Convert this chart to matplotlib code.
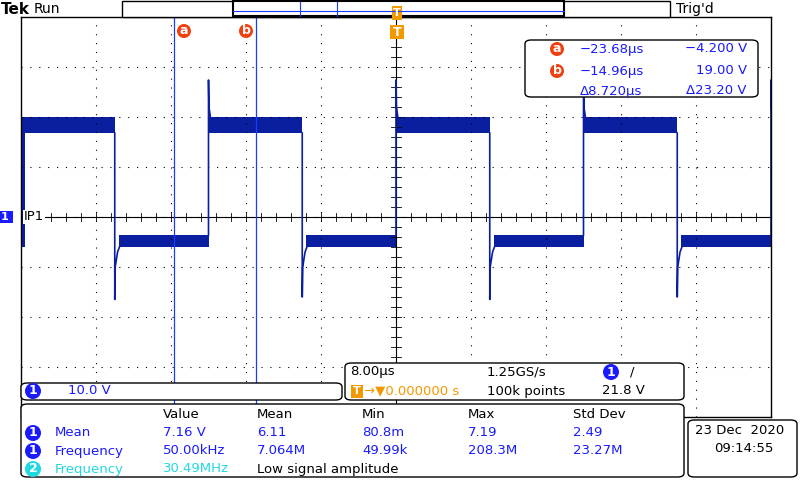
import matplotlib
matplotlib.use("Agg")
import matplotlib.pyplot as plt
from matplotlib.patches import FancyBboxPatch, Rectangle, Ellipse
import numpy as np

# waveform: 50 kHz square, 8 us/div, 10 V/div
rise_times = [-20.0, 0.0, 20.0, 40.0]
fall_times = [-30.0, -10.0, 10.0, 30.0]
high_lo, high_hi = 16.8, 20.0
low_lo, low_hi = -6.0, -3.6
rise_peak = [27.4, 27.4, 27.4, 27.4]
fall_peak = [-16.5, -16.0, -16.5, -16.0]
cursor_a, cursor_b = -23.68, -14.96

BLUE = "#0a1ea0"
TXT = "#1a1aff"
ORANGE = "#f29900"
RED = "#f04010"
CYAN = "#22d8e0"

fig = plt.figure(figsize=(8, 4.8), dpi=100)
fig.patch.set_facecolor("white")
W, H = 800, 480

def fx(px): return px / W
def fy(py): return 1 - py / H

ax = fig.add_axes([fx(21), fy(417), 750 / W, 400 / H])
ax.set_xlim(-40, 40)
ax.set_ylim(-40, 40)
ax.set_xticks([]); ax.set_yticks([])
for s in ax.spines.values():
    s.set_color("black"); s.set_linewidth(1)

# graticule
for gx in np.arange(-32, 40, 8):
    ax.axvline(gx, color="black", lw=0.8, ls=(0, (1, 7)))
for gy in np.arange(-30, 40, 10):
    ax.axhline(gy, color="black", lw=0.8, ls=(0, (1, 7)))
ax.axhline(0, color="black", lw=0.8)
ax.axvline(0, color="black", lw=0.8)
for t in np.arange(-40, 40.1, 1.6):
    ax.plot([t, t], [-0.8, 0.8], color="black", lw=0.6)
for v in np.arange(-40, 40.1, 2):
    ax.plot([-0.5, 0.5], [v, v], color="black", lw=0.6)

# trace bands
for f in fall_times:
    ax.fill_between([max(f - 10, -40), f], high_lo, high_hi, color=BLUE, lw=0)
for r in rise_times:
    ax.fill_between([r - 10 + 0.4, r], low_lo, low_hi, color=BLUE, lw=0)
ax.fill_between([-40, -39.6], low_lo, high_hi, color=BLUE, lw=0)
for r, p in zip(rise_times, rise_peak):
    ax.plot([r, r, r + 0.05, r + 0.2], [low_hi, p, high_hi + 2, high_hi], color=BLUE, lw=1.2)
for f, p in zip(fall_times, fall_peak):
    ax.plot([f, f, f + 0.05, f + 0.3, f + 0.5], [high_lo, p, low_lo - 4, low_lo - 1, low_lo], color=BLUE, lw=1.2)

# cursors
ax.axvline(cursor_a, color="#1a3cff", lw=0.9)
ax.axvline(cursor_b, color="#1a3cff", lw=0.9)

def badge(x, y, s, fc, r=7):
    fig.patches.append(Ellipse((fx(x), fy(y)), 2 * r / W, 2 * r / H, transform=fig.transFigure,
                               facecolor=fc, edgecolor="none"))
    fig.text(fx(x), fy(y), s, color="white", fontsize=9, fontweight="bold",
             ha="center", va="center")

def box(x0, y0, x1, y1):
    fig.patches.append(FancyBboxPatch((fx(x0), fy(y1)), fx(x1 - x0), (y1 - y0) / H,
                                      boxstyle="round,pad=0,rounding_size=0.008",
                                      transform=fig.transFigure, facecolor="white",
                                      edgecolor="black", lw=1))

# top bar
fig.text(fx(1), fy(9), "Tek", fontsize=11, fontweight="bold", va="center")
fig.text(fx(34), fy(9), "Run", fontsize=10, va="center")
fig.text(fx(676), fy(9), "Trig'd", fontsize=10, va="center")
fig.patches.append(Rectangle((fx(122), fy(17)), fx(548), 16 / H, transform=fig.transFigure,
                             facecolor="white", edgecolor="black", lw=1))
fig.patches.append(Rectangle((fx(233), fy(16)), fx(331), 15 / H, transform=fig.transFigure,
                             facecolor="white", edgecolor="black", lw=1.5))
fig.lines.append(plt.Line2D([fx(233), fx(564)], [fy(11), fy(11)], transform=fig.transFigure, color="#1a3cff", lw=0.8))
for xv in [300, 337]:
    fig.lines.append(plt.Line2D([fx(xv), fx(xv)], [fy(2), fy(16)], transform=fig.transFigure, color="#1a3cff", lw=0.8))
fig.patches.append(Rectangle((fx(392), fy(20)), fx(10), 14 / H, transform=fig.transFigure, facecolor=ORANGE, edgecolor="none"))
fig.text(fx(397), fy(13), "T", color="white", fontsize=8, ha="center", va="center", fontweight="bold")
fig.patches.append(Rectangle((fx(390), fy(39)), fx(14), 14 / H, transform=fig.transFigure, facecolor=ORANGE, edgecolor="none"))
fig.text(fx(397), fy(32), "T", color="white", fontsize=9, ha="center", va="center", fontweight="bold")
badge(184, 31, "a", RED)
badge(246, 31, "b", RED)

# cursor readout
box(525, 40, 758, 97)
badge(557, 49, "a", RED)
badge(557, 71, "b", RED)
for y, c1, c2 in [(49, "\u221223.68\u03bcs", "\u22124.200 V"), (71, "\u221214.96\u03bcs", "19.00 V"),
                  (91, "\u03948.720\u03bcs", "\u039423.20 V")]:
    fig.text(fx(580), fy(y), c1, color=TXT, fontsize=9.5, va="center")
    fig.text(fx(747), fy(y), c2, color=TXT, fontsize=9.5, va="center", ha="right")

# ground marker
fig.patches.append(Rectangle((fx(0), fy(223)), fx(13), 12 / H, transform=fig.transFigure, facecolor=TXT, edgecolor="none"))
fig.text(fx(5), fy(217), "1", color="white", fontsize=8, va="center", ha="center", fontweight="bold")
fig.text(fx(24), fy(217), "IP1", color="black", fontsize=9.5, va="center",
         bbox=dict(facecolor="white", edgecolor="none", pad=0.5))

# bottom panels
box(21, 383, 342, 400)
badge(33, 391, "1", TXT, 8)
fig.text(fx(68), fy(391), "10.0 V", color=TXT, fontsize=9.5, va="center")
box(345, 363, 684, 400)
fig.text(fx(350), fy(372), "8.00\u03bcs", fontsize=9.5, va="center")
fig.text(fx(487), fy(372), "1.25GS/s", fontsize=9.5, va="center")
badge(611, 372, "1", TXT, 8)
fig.text(fx(630), fy(372), "/", fontsize=9.5, va="center")
fig.patches.append(Rectangle((fx(351), fy(398)), fx(12), 13 / H, transform=fig.transFigure, facecolor=ORANGE, edgecolor="none"))
fig.text(fx(357), fy(391), "T", color="white", fontsize=8, ha="center", va="center", fontweight="bold")
fig.text(fx(364), fy(391), "\u2192\u25bc0.000000 s", color=ORANGE, fontsize=9.5, va="center")
fig.text(fx(487), fy(391), "100k points", fontsize=9.5, va="center")
fig.text(fx(645), fy(391), "21.8 V", fontsize=9.5, va="center", ha="right")

box(21, 404, 684, 477)
cols = [163, 257, 362, 468, 573]
for c, s in zip(cols, ["Value", "Mean", "Min", "Max", "Std Dev"]):
    fig.text(fx(c), fy(414), s, fontsize=9.5, va="center")
rows = [(433, "1", TXT, "Mean", ["7.16 V", "6.11", "80.8m", "7.19", "2.49"]),
        (451, "1", TXT, "Frequency", ["50.00kHz", "7.064M", "49.99k", "208.3M", "23.27M"]),
        (469, "2", CYAN, "Frequency", ["30.49MHz", "Low signal amplitude", "", "", ""])]
for y, n, col, name, vals in rows:
    badge(33, y, n, col, 8)
    fig.text(fx(55), fy(y), name, color=col, fontsize=9.5, va="center")
    for i, (c, v) in enumerate(zip(cols, vals)):
        color = col if i == 0 else (TXT if n == "1" else "black")
        fig.text(fx(c), fy(y), v, color=color, fontsize=9.5, va="center")

box(688, 420, 797, 477)
fig.text(fx(784), fy(431), "23 Dec  2020", fontsize=9.5, va="center", ha="right")
fig.text(fx(714), fy(448), "09:14:55", fontsize=9.5, va="center")

fig.savefig("out.png", dpi=100)
